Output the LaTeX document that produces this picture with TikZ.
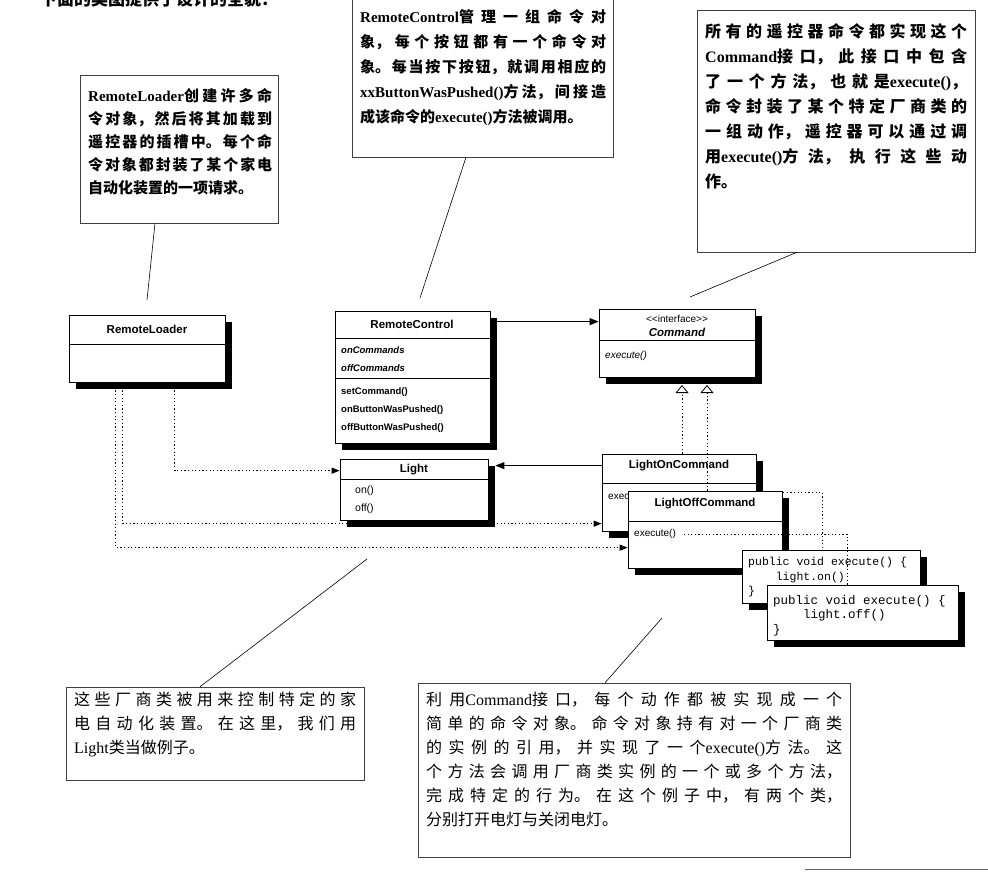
\documentclass[tikz,border=0pt]{standalone}
\usepackage{fontspec}
\setmainfont{Liberation Serif}
\newfontfamily\cjk{Noto Sans CJK SC}
\newfontfamily\hv{Liberation Sans}
\newfontfamily\cod{Liberation Mono}
\newfontfamily\lat{Liberation Serif}
\usetikzlibrary{arrows.meta,fit,shadows,calc}
\XeTeXlinebreaklocale "zh"
\XeTeXlinebreakskip=0pt plus 6pt
\newcommand{\La}[1]{{\lat\bfseries #1}}
\newcommand{\Lr}[1]{{\lat #1}}
\tikzset{
 cls/.style={draw, line width=0.7pt, fill=white, inner sep=0pt,
   drop shadow={shadow xshift=7pt, shadow yshift=-7pt, fill=black, opacity=1}},
 notebox/.style={draw=black!75, line width=0.5pt, inner sep=0pt},
 notetxt/.style={anchor=north west, inner sep=0pt, align=justify,
   font=\cjk\bfseries\fontsize{15}{23}\selectfont},
 ttl/.style={font=\hv\bfseries\fontsize{11.5}{12}\selectfont, inner sep=0pt},
 mem/.style={font=\hv\fontsize{10}{11}\selectfont, anchor=west, inner sep=0pt},
 memb/.style={font=\hv\bfseries\fontsize{9.5}{11}\selectfont, anchor=west, inner sep=0pt},
 codetxt/.style={font=\cod\fontsize{11.5}{14.5}\selectfont, anchor=north west, inner sep=0pt, align=left},
 dotln/.style={line width=0.9pt, dash pattern=on 1.2pt off 2.4pt},
 noteln/.style={line width=0.6pt},
 assoc/.style={line width=1pt, -{Triangle[length=9pt,width=7pt]}},
 realize/.style={line width=0.9pt, dash pattern=on 1.2pt off 2.4pt, -{Triangle[open,length=8pt,width=13pt,line width=0.8pt]}},
 dep/.style={line width=0.9pt, dash pattern=on 1.2pt off 2.4pt, -{Triangle[length=8pt,width=6pt]}},
}
\begin{document}
\begin{tikzpicture}[x=1pt,y=-1pt]
\useasboundingbox (0,0) rectangle (988,872);
\fill[white] (0,0) rectangle (988,872);

% cut heading at top
\node[anchor=base west, inner sep=0pt, font=\cjk\bfseries\fontsize{17}{17}\selectfont] (head) at (40,6) {下面的类图提供了设计的全貌：};

% ---------- note boxes ----------
\node[notebox, fit={(80,75)(278,223)}] (n1) {};
\node[notetxt, text width=184pt, font=\cjk\bfseries\fontsize{15}{23}\selectfont] (t1) at (88,88) {\La{RemoteLoader}创建许多命\linebreak 令对象，然后将其加载到\linebreak 遥控器的插槽中。每个命\linebreak 令对象都封装了某个家电\linebreak 自动化装置的一项请求。};

\node[notebox, fit={(352,-6)(613,157)}] (n2) {};
\node[notetxt, text width=246pt, font=\cjk\bfseries\fontsize{15}{25}\selectfont] (t2) at (360,9) {\La{RemoteControl}管理一组命令对\linebreak 象，每个按钮都有一个命令对\linebreak 象。每当按下按钮，就调用相应的\linebreak \La{xxButtonWasPushed()}方法，间接造\linebreak 成该命令的\La{execute()}方法被调用。};

\node[notebox, fit={(697,10)(975,252)}] (n3) {};
\node[notetxt, text width=262pt, font=\cjk\bfseries\fontsize{16}{25}\selectfont] (t3) at (705,23) {所有的遥控器命令都实现这个\linebreak \La{Command}接口，此接口中包含\linebreak 了一个方法，也就是\La{execute()}，\linebreak 命令封装了某个特定厂商类的\linebreak 一组动作，遥控器可以通过调\linebreak 用\La{execute()}方法，执行这些动\linebreak 作。};

\node[notebox, fit={(66,687)(364,780)}] (n4) {};
\node[notetxt, text width=282pt, font=\cjk\fontsize{16}{24}\selectfont] (t4) at (74,692) {这些厂商类被用来控制特定的家\linebreak 电自动化装置。在这里，我们用\linebreak \Lr{Light}类当做例子。};

\node[notebox, fit={(418,683)(850,857)}] (n5) {};
\node[notetxt, text width=416pt, font=\cjk\fontsize{16}{24}\selectfont] (t5) at (426,692) {利用\Lr{Command}接口，每个动作都被实现成一个\linebreak 简单的命令对象。命令对象持有对一个厂商类\linebreak 的实例的引用，并实现了一个\Lr{execute()}方法。这\linebreak 个方法会调用厂商类实例的一个或多个方法，\linebreak 完成特定的行为。在这个例子中，有两个类，\linebreak 分别打开电灯与关闭电灯。};

% ---------- classes ----------
\node[cls, fit={(69,315)(225,382)}] (rl) {};
\draw[line width=0.6pt] (69,344) -- (225,344);
\node[ttl] at (147,329) {RemoteLoader};

\node[cls, fit={(335,311)(490,443)}] (rc) {};
\draw[line width=0.6pt] (335,338) -- (490,338) (335,378) -- (490,378);
\node[ttl] at (412,324) {RemoteControl};
\node[memb, font=\hv\bfseries\itshape\fontsize{9.5}{11}\selectfont] at (341,350) {onCommands};
\node[memb, font=\hv\bfseries\itshape\fontsize{9.5}{11}\selectfont] at (341,368) {offCommands};
\node[memb] at (341,392) {setCommand()};
\node[memb] at (341,410) {onButtonWasPushed()};
\node[memb] at (341,428) {offButtonWasPushed()};

\node[cls, fit={(599,309)(755,377)}] (cmd) {};
\draw[line width=0.6pt] (599,340) -- (755,340);
\node[inner sep=0pt, font=\hv\fontsize{10}{11}\selectfont] at (677,319) {{<}{<}interface{>}{>}};
\node[ttl, font=\hv\bfseries\itshape\fontsize{11.5}{12}\selectfont] at (677,332) {Command};
\node[mem, font=\hv\itshape\fontsize{10}{11}\selectfont] at (605,356) {execute()};

% LightOnCommand
\node[cls, fit={(602,454)(756,531)}] (lon) {};
\draw[line width=0.6pt] (602,483) -- (756,483);
\node[ttl] at (679,466) {LightOnCommand};
\node[mem] (lonex) at (608,497) {execute()};

% realization arrows
\coordinate (tri1) at (682,385);
\coordinate (tri2) at (707,385);
\draw[realize] (lon.north -| tri1) -- (tri1);
\draw[realize] ([yshift=-37pt]lon.north -| tri2) -- (tri2);

% execute() of LightOnCommand to code box 1 (passes behind LightOffCommand)
\coordinate (bend1) at (822,492);
\coordinate (c1top) at (822,550);
\draw[dotln] (lonex.east |- bend1) -- (bend1) -- (c1top);

% LightOffCommand
\node[cls, fit={(628,491)(782,568)}] (loff) {};
\draw[line width=0.6pt] (628,521) -- (782,521);
\node[ttl] at (705,504) {LightOffCommand};
\node[mem] (loffex) at (634,534) {execute()};

% dependency lines from RemoteLoader (behind Light)
\draw[dep] ([xshift=54pt,yshift=-8pt]rl.south west) |- ([yshift=-70pt]lon.north west);
\draw[dep] ([xshift=47pt,yshift=-8pt]rl.south west) |- ([yshift=-57pt]loff.north west);

\node[cls, fit={(340,459)(488,520)}] (lt) {};
\draw[line width=0.6pt] (340,479) -- (488,479);
\node[ttl] at (414,470) {Light};
\node[mem, font=\hv\fontsize{10.5}{11}\selectfont] at (355,491) {on()};
\node[mem, font=\hv\fontsize{10.5}{11}\selectfont] at (355,509) {off()};

\draw[dep] ([xshift=106pt,yshift=-8pt]rl.south west) |- ([yshift=-12pt]lt.north west);

% association arrows
\draw[assoc] ([xshift=7pt,yshift=-11pt]rc.north east) -- ([yshift=-11pt]rc.north east -| cmd.west);
\coordinate (lonrow) at ([yshift=-12pt]lon.north west);
\draw[assoc] (lonrow) -- ($(lt.east |- lonrow)+(7,0)$);

% code boxes
\node[cls, fit={(742,550)(920,603)}] (c1) {};
\node[codetxt] at (748,557) {public void execute() \{\\\hspace*{2.4em}light.on()\\\}};
\node[cls, fit={(767,585)(958,640)}] (c2) {};
\node[codetxt, font=\cod\fontsize{12.5}{14.5}\selectfont] at (773,595) {public void execute() \{\\\hspace*{2.4em}light.off()\\\}};

% execute() of LightOffCommand to code box 2
\coordinate (bend2) at (847,534);
\draw[dotln] ([xshift=8pt]loffex.east |- bend2) -- (bend2) -- (bend2 |- c2.north);

% note connectors
\coordinate (s1) at (155,0);  \coordinate (e1) at (147,300);
\draw[noteln] (s1 |- n1.south) -- (e1);
\coordinate (s2) at (466,0);  \coordinate (e2) at (420,298);
\draw[noteln] (s2 |- n2.south) -- (e2);
\coordinate (s3) at (797,0);  \coordinate (e3) at (690,297);
\draw[noteln] (s3 |- n3.south) -- (e3);
\coordinate (s4) at (200,0);  \coordinate (e4) at (367,559);
\draw[noteln] (s4 |- n4.north) -- (e4);
\coordinate (s5) at (605,0);  \coordinate (e5) at (662,618);
\draw[noteln] (s5 |- n5.north) -- (e5);

% scan edge at bottom
\draw[black!60, line width=1pt] (805,869) -- (988,869);
\end{tikzpicture}
\end{document}
